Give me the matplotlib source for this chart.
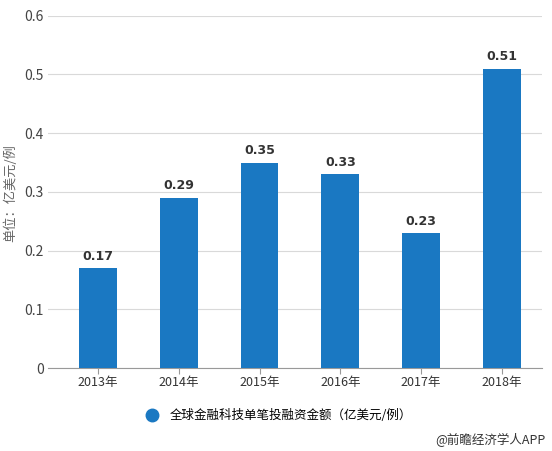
import matplotlib.pyplot as plt
from matplotlib.lines import Line2D

plt.rcParams['font.family'] = ['Noto Sans CJK SC', 'DejaVu Sans']

years = ["2013年", "2014年", "2015年", "2016年", "2017年", "2018年"]
values = [0.17, 0.29, 0.35, 0.33, 0.23, 0.51]
y_ticks = [0, 0.1, 0.2, 0.3, 0.4, 0.5, 0.6]
y_tick_labels = ["0", "0.1", "0.2", "0.3", "0.4", "0.5", "0.6"]
series_name = "全球金融科技单笔投融资金额（亿美元/例）"

bar_color = "#1a78c2"

fig = plt.figure(figsize=(5.52, 4.51), dpi=100)
ax = fig.add_axes([0.087, 0.184, 0.895, 0.781])

x = range(len(years))
ax.bar(x, values, width=0.47, color=bar_color, zorder=3)
for xi, v in zip(x, values):
    ax.text(xi, v + 0.009, f"{v:.2f}", ha="center", va="bottom",
            fontsize=9, fontweight="bold", color="#333333",
            family="DejaVu Sans")

# a little extra room on the left so the gridlines run past the first bar
ax.set_xlim(-0.62, len(years) - 0.5)
ax.set_ylim(0, 0.6)
ax.set_yticks(y_ticks)
ax.set_yticklabels(y_tick_labels, fontsize=10, color="#444444")
ax.set_xticks(list(x))
ax.set_xticklabels(years, fontsize=9, color="#333333")
ax.grid(axis="y", color="#d9d9d9", linewidth=0.8, zorder=0)
for side in ["top", "right", "left"]:
    ax.spines[side].set_visible(False)
ax.spines["bottom"].set_color("#999999")
ax.tick_params(axis="y", length=0, pad=3)
ax.tick_params(axis="x", length=4, color="#999999", pad=2)

# unit label placed by hand, the automatic ylabel gets pushed off the edge
fig.text(11 / 552, 1 - 193 / 451, "单位：亿美元/例", rotation=90,
         ha="center", va="center", fontsize=9.5, color="#666666")

handle = Line2D([], [], marker="o", linestyle="none", color=bar_color,
                markersize=9)
fig.legend([handle], [series_name], loc="center", bbox_to_anchor=(0.5, 0.078),
           frameon=False, fontsize=9, handletextpad=0.4)

fig.text(0.988, 0.025, "@前瞻经济学人APP", ha="right", va="center",
         fontsize=9, color="#333333")

fig.savefig("out.png", dpi=100)
